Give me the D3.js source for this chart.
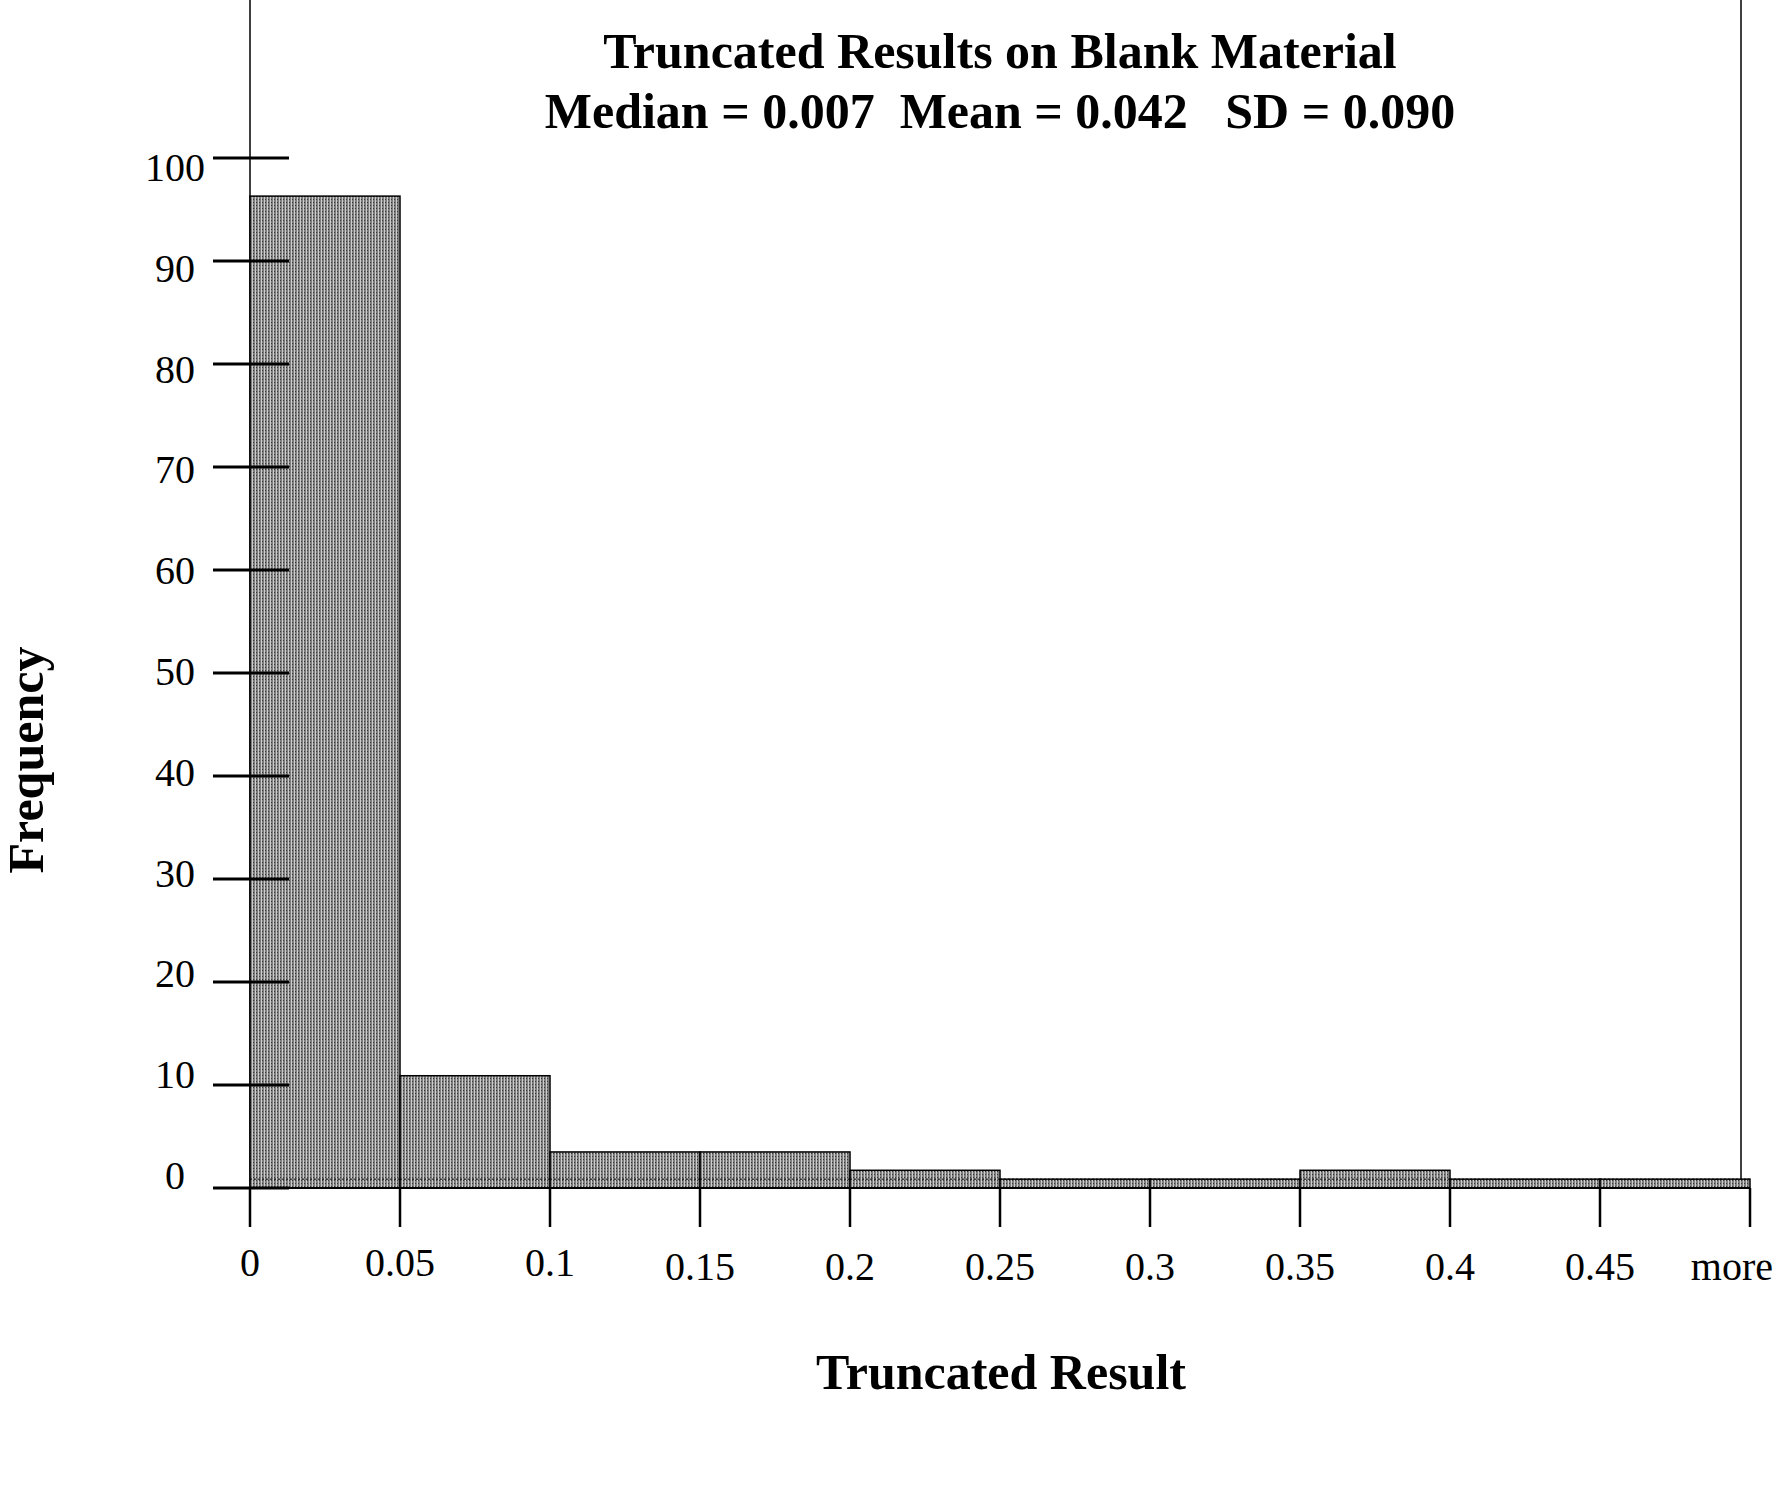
<!DOCTYPE html>
<html>
<head>
<meta charset="utf-8">
<script src="https://cdnjs.cloudflare.com/ajax/libs/d3/7.8.5/d3.min.js"></script>
<style>
  body { margin: 0; background: #fff; }
  text { font-family: "Liberation Serif", "Times New Roman", serif; fill: #000; }
</style>
</head>
<body>
<div id="chart"></div>
<script>
// bins (lower edges) and heights as read against the drawn axis
var binStarts = [0, 0.05, 0.1, 0.15, 0.2, 0.25, 0.3, 0.35, 0.4, 0.45];
var binWidth = 0.05;
var frequency = [96.3, 10.9, 3.5, 3.5, 1.72, 0.86, 0.86, 1.72, 0.86, 0.86];
var baseStrip = [0.86, 0.86, 0.86, 0.86, 0.86, 0.86, 0.86, 0.86, 0.86, 0.86];
var xTickValues = [0, 0.05, 0.1, 0.15, 0.2, 0.25, 0.3, 0.35, 0.4, 0.45, 0.5];
var xTickLabels = ["0", "0.05", "0.1", "0.15", "0.2", "0.25", "0.3", "0.35", "0.4", "0.45", "more"];
var yTickValues = [0, 10, 20, 30, 40, 50, 60, 70, 80, 90, 100];

var width = 1784, height = 1485;

var svg = d3.select("#chart").append("svg")
    .attr("width", width)
    .attr("height", height);

// dotted grey fill like the old print pattern
var defs = svg.append("defs");
var pat = defs.append("pattern")
    .attr("id", "dots")
    .attr("width", 3)
    .attr("height", 3)
    .attr("patternUnits", "userSpaceOnUse");
pat.append("rect").attr("width", 3).attr("height", 3).attr("fill", "#7e7e7e");
pat.append("rect").attr("x", 0).attr("width", 1).attr("height", 3).attr("fill", "#cccccc");
pat.append("rect").attr("x", 1).attr("y", 1).attr("width", 1).attr("height", 1).attr("fill", "#383838");

var x = d3.scaleLinear().domain([0, 0.5]).range([250, 1750]);
var y = d3.scaleLinear().domain([0, 100]).range([1188, 158]);
// the printed labels sit a little off their ticks
var yLab = d3.scaleLinear().domain([0, 100]).range([1189, 181]);

// frame lines
svg.append("line")
    .attr("x1", 250).attr("x2", 250)
    .attr("y1", 0).attr("y2", y(0))
    .attr("stroke", "#000").attr("stroke-width", 1.5);
svg.append("line")
    .attr("x1", 1741).attr("x2", 1741)
    .attr("y1", 0).attr("y2", y(0))
    .attr("stroke", "#000").attr("stroke-width", 1.5);

// bars
svg.selectAll(".bar")
    .data(frequency)
    .enter()
    .append("rect")
    .attr("class", "bar")
    .attr("x", function (d, i) { return x(binStarts[i]); })
    .attr("width", function (d, i) { return x(binStarts[i] + binWidth) - x(binStarts[i]); })
    .attr("y", function (d) { return y(d); })
    .attr("height", function (d) { return y(0) - y(d); })
    .attr("fill", "url(#dots)")
    .attr("stroke", "#000")
    .attr("stroke-width", 1.5);

// thin dotted line of the lower strip
svg.selectAll(".strip")
    .data(baseStrip)
    .enter()
    .append("line")
    .attr("x1", function (d, i) { return x(binStarts[i]); })
    .attr("x2", function (d, i) { return x(binStarts[i] + binWidth); })
    .attr("y1", function (d) { return y(d); })
    .attr("y2", function (d) { return y(d); })
    .attr("stroke", "#000")
    .attr("stroke-width", 1)
    .attr("stroke-dasharray", "2,2");

// bottom line
svg.append("line")
    .attr("x1", x(0)).attr("x2", x(0.5))
    .attr("y1", y(0)).attr("y2", y(0))
    .attr("stroke", "#000").attr("stroke-width", 2);

// y ticks and labels
svg.selectAll(".ytick")
    .data(yTickValues)
    .enter()
    .append("line")
    .attr("x1", 213).attr("x2", 289)
    .attr("y1", function (d) { return y(d); })
    .attr("y2", function (d) { return y(d); })
    .attr("stroke", "#000")
    .attr("stroke-width", 3);

svg.selectAll(".ylab")
    .data(yTickValues)
    .enter()
    .append("text")
    .attr("x", 175)
    .attr("y", function (d) { return yLab(d); })
    .attr("text-anchor", "middle")
    .style("font-size", "40px")
    .text(function (d) { return d; });

// x ticks and labels
svg.selectAll(".xtick")
    .data(xTickValues)
    .enter()
    .append("line")
    .attr("x1", function (d) { return x(d); })
    .attr("x2", function (d) { return x(d); })
    .attr("y1", y(0))
    .attr("y2", 1227)
    .attr("stroke", "#000")
    .attr("stroke-width", 2.5);

svg.selectAll(".xlab")
    .data(xTickValues)
    .enter()
    .append("text")
    .attr("x", function (d, i) { return i == xTickValues.length - 1 ? x(d) + 23 : x(d); })
    .attr("y", function (d, i) { return i < 3 ? 1276 : 1280; })
    .attr("text-anchor", function (d, i) { return i == xTickValues.length - 1 ? "end" : "middle"; })
    .style("font-size", "40px")
    .text(function (d, i) { return xTickLabels[i]; });

// titles
svg.append("text")
    .attr("x", 1000).attr("y", 68)
    .attr("text-anchor", "middle")
    .style("font-size", "50px").style("font-weight", "bold")
    .text("Truncated Results on Blank Material");
svg.append("text")
    .attr("x", 1000).attr("y", 128)
    .attr("text-anchor", "middle")
    .style("font-size", "50px").style("font-weight", "bold")
    .style("white-space", "pre")
    .text("Median = 0.007  Mean = 0.042   SD = 0.090");

svg.append("text")
    .attr("x", 1001).attr("y", 1389)
    .attr("text-anchor", "middle")
    .style("font-size", "50px").style("font-weight", "bold")
    .text("Truncated Result");

svg.append("text")
    .attr("transform", "translate(43,760) rotate(-90)")
    .attr("text-anchor", "middle")
    .style("font-size", "50px").style("font-weight", "bold")
    .text("Frequency");
</script>
</body>
</html>
